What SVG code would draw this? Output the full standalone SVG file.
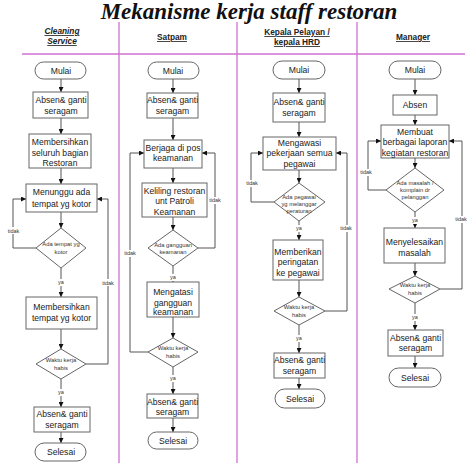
<svg xmlns="http://www.w3.org/2000/svg" width="474" height="467" viewBox="0 0 474 467">
<defs>
<marker id="ar" viewBox="0 0 6 6" refX="6" refY="3" markerWidth="5" markerHeight="5" markerUnits="userSpaceOnUse" orient="auto"><path d="M0,0 L6,3 L0,6 z" fill="#111"/></marker>
<style>
.box{fill:#fff;stroke:#666;stroke-width:1}
.t{font-family:"Liberation Sans",Arial,sans-serif;font-size:8.6px;fill:#222;text-anchor:middle}
.d{font-family:"Liberation Sans",Arial,sans-serif;font-size:5.8px;fill:#333;text-anchor:middle}
.l{font-family:"Liberation Sans",Arial,sans-serif;font-size:5.5px;fill:#333;text-anchor:middle}
.lb{fill:#fff;stroke:none}
.c{fill:none;stroke:#555;stroke-width:1;marker-end:url(#ar)}
.h{font-family:"Liberation Sans",Arial,sans-serif;font-size:8.3px;font-weight:bold;fill:#222;text-anchor:middle;text-decoration:underline}
.lane{stroke:#d070d0;stroke-width:1.3}
</style>
</defs>
<rect x="0" y="0" width="474" height="467" fill="#fff"/>
<text x="249" y="19" font-family="'Liberation Serif','Times New Roman',serif" font-size="23" font-weight="bold" font-style="italic" text-anchor="middle" fill="#111">Mekanisme kerja staff restoran</text>
<g id="lanes">
<line class="lane" x1="119" y1="22" x2="119" y2="463"/>
<line class="lane" x1="237" y1="22" x2="237" y2="463"/>
<line class="lane" x1="357" y1="22" x2="357" y2="463"/>
<line class="lane" x1="22" y1="54" x2="465" y2="54"/>
<text class="h" x="62" y="34" font-style="italic">Cleaning</text>
<text class="h" x="62" y="44" font-style="italic">Service</text>
<text class="h" x="172" y="40">Satpam</text>
<text class="h" x="297" y="35">Kepala Pelayan /</text>
<text class="h" x="297" y="45">kepala HRD</text>
<text class="h" x="413" y="40">Manager</text>
</g>
<g id="connectors">
<line class="c" x1="61" y1="79" x2="61" y2="92"/>
<line class="c" x1="61" y1="118" x2="61" y2="134"/>
<line class="c" x1="61" y1="168" x2="61" y2="184"/>
<line class="c" x1="61" y1="212" x2="61" y2="228"/>
<polyline class="c" points="36,248 13,248 13,199 26,199"/>
<line class="c" x1="61" y1="268" x2="61" y2="297"/>
<line class="c" x1="61" y1="329" x2="61" y2="349"/>
<polyline class="c" points="86,364 108,364 108,199 97,199"/>
<line class="c" x1="61" y1="379" x2="61" y2="407"/>
<line class="c" x1="61" y1="432" x2="61" y2="443"/>
<line class="c" x1="173" y1="79" x2="173" y2="93"/>
<line class="c" x1="173" y1="118" x2="173" y2="140"/>
<line class="c" x1="173" y1="168" x2="173" y2="183"/>
<line class="c" x1="173" y1="217" x2="173" y2="230"/>
<polyline class="c" points="198,248 215,248 215,153 202,153"/>
<line class="c" x1="173" y1="266" x2="173" y2="282"/>
<line class="c" x1="173" y1="317" x2="173" y2="338"/>
<polyline class="c" points="148,352 130,352 130,153 144,153"/>
<line class="c" x1="173" y1="367" x2="173" y2="394"/>
<line class="c" x1="173" y1="418" x2="173" y2="432"/>
<line class="c" x1="299" y1="79" x2="299" y2="93"/>
<line class="c" x1="299" y1="122" x2="299" y2="137"/>
<line class="c" x1="299" y1="170" x2="299" y2="183"/>
<polyline class="c" points="274,202 251,202 251,153 263,153"/>
<line class="c" x1="299" y1="221" x2="299" y2="240"/>
<line class="c" x1="299" y1="280" x2="299" y2="297"/>
<polyline class="c" points="325,311 347,311 347,153 336,153"/>
<line class="c" x1="299" y1="325" x2="299" y2="353"/>
<line class="c" x1="299" y1="378" x2="299" y2="389"/>
<line class="c" x1="415" y1="79" x2="415" y2="95"/>
<line class="c" x1="415" y1="115" x2="415" y2="125"/>
<line class="c" x1="415" y1="158" x2="415" y2="168"/>
<polyline class="c" points="386,190 368,190 368,141 381,141"/>
<line class="c" x1="415" y1="212" x2="415" y2="228"/>
<line class="c" x1="415" y1="263" x2="415" y2="276"/>
<polyline class="c" points="440,289 462,289 462,141 449,141"/>
<line class="c" x1="415" y1="303" x2="415" y2="330"/>
<line class="c" x1="415" y1="356" x2="415" y2="368"/>
<rect class="lb" x="5" y="227" width="17" height="7"/><text class="l" x="13.5" y="232.5">tidak</text>
<rect class="lb" x="56" y="279" width="10" height="7"/><text class="l" x="61" y="284">ya</text>
<rect class="lb" x="100" y="279" width="16" height="7"/><text class="l" x="108" y="284.5">tidak</text>
<rect class="lb" x="56" y="389" width="10" height="7"/><text class="l" x="61" y="394">ya</text>
<rect class="lb" x="208" y="197" width="15" height="7"/><text class="l" x="215" y="202">tidak</text>
<rect class="lb" x="168" y="274" width="10" height="7"/><text class="l" x="173" y="279">ya</text>
<rect class="lb" x="122" y="250" width="16" height="7"/><text class="l" x="130" y="255">tidak</text>
<rect class="lb" x="168" y="375" width="10" height="7"/><text class="l" x="173" y="380">ya</text>
<rect class="lb" x="244" y="180" width="16" height="7"/><text class="l" x="252" y="185">tidak</text>
<rect class="lb" x="294" y="225" width="10" height="7"/><text class="l" x="299" y="230">ya</text>
<rect class="lb" x="338" y="225" width="16" height="7"/><text class="l" x="346" y="230">tidak</text>
<rect class="lb" x="294" y="335" width="10" height="7"/><text class="l" x="299" y="340">ya</text>
<rect class="lb" x="358" y="169" width="16" height="7"/><text class="l" x="366" y="174">tidak</text>
<rect class="lb" x="410" y="217" width="10" height="7"/><text class="l" x="415" y="222">ya</text>
<rect class="lb" x="453" y="216" width="16" height="7"/><text class="l" x="461" y="221">tidak</text>
<rect class="lb" x="410" y="314" width="10" height="7"/><text class="l" x="415" y="319">ya</text>
</g>
<g id="c1-mulai"><rect class="box" x="35" y="62" width="51" height="17" rx="8.5"/><text class="t" x="61" y="73.5">Mulai</text></g>
<g id="c1-absen"><rect class="box" x="33" y="92" width="55" height="26"/><text class="t" x="61" y="103">Absen&amp; ganti</text><text class="t" x="61" y="113.5">seragam</text></g>
<g id="c1-bersih"><rect class="box" x="29" y="134" width="62" height="34"/><text class="t" x="60" y="145">Membersihkan</text><text class="t" x="60" y="155.5">seluruh bagian</text><text class="t" x="60" y="166">Restoran</text></g>
<g id="c1-tunggu"><rect class="box" x="26" y="184" width="71" height="28"/><text class="t" x="61.5" y="195">Menunggu ada</text><text class="t" x="61.5" y="206.5">tempat yg kotor</text></g>
<g id="c1-kotor"><polygon class="box" points="61,228 86,248 61,268 36,248"/><text class="d" x="61" y="246">Ada tempat yg</text><text class="d" x="61" y="254">kotor</text></g>
<g id="c1-bersih2"><rect class="box" x="26" y="297" width="71" height="32"/><text class="t" x="61.5" y="310">Membersihkan</text><text class="t" x="61.5" y="321">tempat yg kotor</text></g>
<g id="c1-waktu"><polygon class="box" points="61,349 86,364 61,379 36,364"/><text class="d" x="61" y="362">Waktu kerja</text><text class="d" x="61" y="369.5">habis</text></g>
<g id="c1-absen2"><rect class="box" x="34" y="407" width="56" height="25"/><text class="t" x="62" y="417">Absen&amp; ganti</text><text class="t" x="62" y="427.5">seragam</text></g>
<g id="c1-selesai"><rect class="box" x="35" y="443" width="51" height="18" rx="9"/><text class="t" x="61" y="455">Selesai</text></g>
<g id="c2-mulai"><rect class="box" x="148" y="62" width="51" height="17" rx="8.5"/><text class="t" x="173" y="73.5">Mulai</text></g>
<g id="c2-absen"><rect class="box" x="147" y="93" width="51" height="25"/><text class="t" x="172.5" y="103">Absen&amp; ganti</text><text class="t" x="172.5" y="113.5">seragam</text></g>
<g id="c2-jaga"><rect class="box" x="144" y="140" width="58" height="28"/><text class="t" x="173" y="150.5">Berjaga di pos</text><text class="t" x="173" y="161">keamanan</text></g>
<g id="c2-keliling"><rect class="box" x="142" y="183" width="65" height="34"/><text class="t" x="174.5" y="193.5">Keliling restoran</text><text class="t" x="174.5" y="204">unt Patroli</text><text class="t" x="174.5" y="214.5">Keamanan</text></g>
<g id="c2-ganggu"><polygon class="box" points="173,230 198,248 173,266 148,248"/><text class="d" x="173" y="247">Ada gangguan</text><text class="d" x="173" y="254">keamanan</text></g>
<g id="c2-atasi"><rect class="box" x="147" y="282" width="52" height="35"/><text class="t" x="173" y="295">Mengatasi</text><text class="t" x="173" y="305.5">gangguan</text><text class="t" x="173" y="315">keamanan</text></g>
<g id="c2-waktu"><polygon class="box" points="173,338 198,352 173,367 148,352"/><text class="d" x="173" y="350">Waktu kerja</text><text class="d" x="173" y="358">habis</text></g>
<g id="c2-absen2"><rect class="box" x="147" y="394" width="51" height="24"/><text class="t" x="172.5" y="404.5">Absen&amp; ganti</text><text class="t" x="172.5" y="415">seragam</text></g>
<g id="c2-selesai"><rect class="box" x="148" y="432" width="50" height="17" rx="8.5"/><text class="t" x="173" y="443.5">Selesai</text></g>
<g id="c3-mulai"><rect class="box" x="273" y="61" width="52" height="18" rx="9"/><text class="t" x="299" y="73">Mulai</text></g>
<g id="c3-absen"><rect class="box" x="273" y="93" width="52" height="29"/><text class="t" x="299" y="105">Absen&amp; ganti</text><text class="t" x="299" y="115.5">seragam</text></g>
<g id="c3-awasi"><rect class="box" x="263" y="137" width="73" height="33"/><text class="t" x="299.5" y="145.5">Mengawasi</text><text class="t" x="299.5" y="156">pekerjaan semua</text><text class="t" x="299.5" y="166.5">pegawai</text></g>
<g id="c3-langgar"><polygon class="box" points="299,183 325,202 299,221 274,202"/><text class="d" x="299" y="199">Ada pegawai</text><text class="d" x="299" y="206">yg melanggar</text><text class="d" x="299" y="213">peraturan</text></g>
<g id="c3-peringatan"><rect class="box" x="273" y="240" width="50" height="40"/><text class="t" x="298" y="254.5">Memberikan</text><text class="t" x="298" y="265">peringatan</text><text class="t" x="298" y="275.5">ke pegawai</text></g>
<g id="c3-waktu"><polygon class="box" points="299,297 325,311 299,325 274,311"/><text class="d" x="299" y="309">Waktu kerja</text><text class="d" x="299" y="316.5">habis</text></g>
<g id="c3-absen2"><rect class="box" x="274" y="353" width="51" height="25"/><text class="t" x="299.5" y="363">Absen&amp; ganti</text><text class="t" x="299.5" y="373.5">seragam</text></g>
<g id="c3-selesai"><rect class="box" x="275" y="389" width="50" height="19" rx="9.5"/><text class="t" x="300" y="401.5">Selesai</text></g>
<g id="c4-mulai"><rect class="box" x="389" y="61" width="52" height="18" rx="9"/><text class="t" x="415" y="73">Mulai</text></g>
<g id="c4-absen"><rect class="box" x="393" y="95" width="44" height="20"/><text class="t" x="415" y="108">Absen</text></g>
<g id="c4-laporan"><rect class="box" x="381" y="125" width="68" height="33"/><text class="t" x="415" y="134.5">Membuat</text><text class="t" x="415" y="145">berbagai laporan</text><text class="t" x="415" y="155.5">kegiatan restoran</text></g>
<g id="c4-masalah"><polygon class="box" points="415,168 444,190 415,212 386,190"/><text class="d" x="415" y="185">Ada masalah /</text><text class="d" x="415" y="192">komplain dr</text><text class="d" x="415" y="199">pelanggan</text></g>
<g id="c4-selesaikan"><rect class="box" x="384" y="228" width="61" height="35"/><text class="t" x="414.5" y="245">Menyelesaikan</text><text class="t" x="414.5" y="256">masalah</text></g>
<g id="c4-waktu"><polygon class="box" points="415,276 440,289 415,303 389,289"/><text class="d" x="415" y="287">Waktu kerja</text><text class="d" x="415" y="295">habis</text></g>
<g id="c4-absen2"><rect class="box" x="388" y="330" width="55" height="26"/><text class="t" x="415.5" y="340.5">Absen&amp; ganti</text><text class="t" x="415.5" y="351">seragam</text></g>
<g id="c4-selesai"><rect class="box" x="389" y="368" width="52" height="19" rx="9.5"/><text class="t" x="415" y="380.5">Selesai</text></g>
</svg>
